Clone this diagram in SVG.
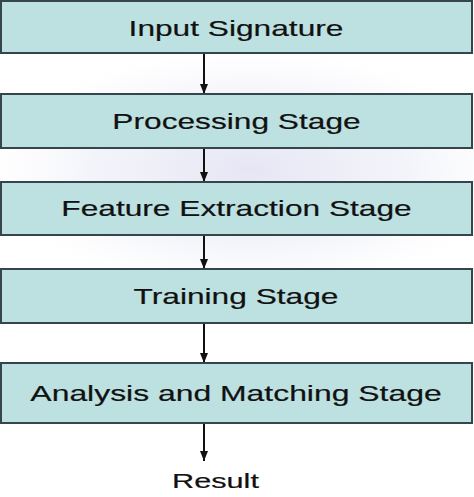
<svg xmlns="http://www.w3.org/2000/svg" width="474" height="497" viewBox="0 0 474 497">
<defs>
<style>
.box{fill:#bde1e1;stroke:#34454b;stroke-width:2}
.lbl{font-family:"Liberation Sans",Arial,sans-serif;font-size:22px;fill:#111;stroke:#111;stroke-width:0.2px;text-anchor:middle}
.con{stroke:#111;stroke-width:2;fill:none}
</style>
<marker id="ah" viewBox="0 0 10 8" refX="10" refY="4" markerWidth="10" markerHeight="8" markerUnits="userSpaceOnUse" orient="auto">
<path d="M0,0 L10,4 L0,8 Z" fill="#111"/>
</marker>
<radialGradient id="wm" cx="0.5" cy="0.5" r="0.5">
<stop offset="0" stop-color="#dcdaf0" stop-opacity="0.7"/>
<stop offset="0.6" stop-color="#e4e6f4" stop-opacity="0.45"/>
<stop offset="1" stop-color="#eef0f8" stop-opacity="0"/>
</radialGradient>
</defs>
<rect width="474" height="497" fill="#fff"/>
<ellipse cx="250" cy="170" rx="260" ry="120" fill="url(#wm)"/>
<g id="connectors">
<line class="con" x1="204" y1="53" x2="204" y2="94" marker-end="url(#ah)"/>
<line class="con" x1="204" y1="148" x2="204" y2="182" marker-end="url(#ah)"/>
<line class="con" x1="204" y1="235" x2="204" y2="269" marker-end="url(#ah)"/>
<line class="con" x1="204" y1="323" x2="204" y2="363" marker-end="url(#ah)"/>
<line class="con" x1="204" y1="423" x2="204" y2="461" marker-end="url(#ah)"/>
</g>
<g id="n1"><rect class="box" x="1" y="1" width="471" height="52"/><text class="lbl" transform="translate(236,36) scale(1.44,1)">Input Signature</text></g>
<g id="n2"><rect class="box" x="1" y="94" width="471" height="54"/><text class="lbl" transform="translate(236.5,129) scale(1.44,1)">Processing Stage</text></g>
<g id="n3"><rect class="box" x="1" y="182" width="471" height="53"/><text class="lbl" transform="translate(236.5,216) scale(1.44,1)">Feature Extraction Stage</text></g>
<g id="n4"><rect class="box" x="1" y="269" width="471" height="54"/><text class="lbl" transform="translate(236,304) scale(1.44,1)">Training Stage</text></g>
<g id="n5"><rect class="box" x="1" y="363" width="471" height="60"/><text class="lbl" transform="translate(236,401) scale(1.45,1)">Analysis and Matching Stage</text></g>
<g id="n6"><text class="lbl" style="font-size:21px" transform="translate(215.5,487.5) scale(1.46,1)">Result</text></g>
</svg>
